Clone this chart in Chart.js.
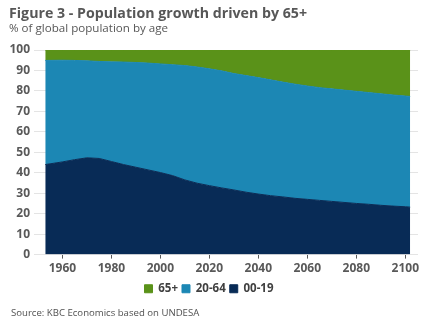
<!DOCTYPE html>
<html><head><meta charset="utf-8">
<script src="https://cdn.jsdelivr.net/npm/chart.js@4/dist/chart.umd.min.js"></script>
<style>
html,body{margin:0;padding:0;background:#fff;}
#wrap{position:relative;width:432px;height:332px;overflow:hidden;font-family:"Open Sans",sans-serif;}
#title{position:absolute;left:9px;top:3px;font-size:14.2px;font-weight:700;color:#575757;white-space:nowrap;}
#sub{position:absolute;left:9px;top:20px;font-size:11.6px;color:#575757;white-space:nowrap;}
#src{position:absolute;left:11px;top:306px;font-size:9.6px;color:#505050;white-space:nowrap;}
canvas{position:absolute;left:0;top:0;}
</style></head>
<body><div id="wrap">
<canvas id="c" width="432" height="332"></canvas>
<div id="title">Figure 3 - Population growth driven by 65+</div>
<div id="sub">% of global population by age</div>
<div id="src">Source: KBC Economics based on UNDESA</div>
</div>
<script>
const years = [1953,1960,1965,1970,1975,1980,1985,1990,1995,2000,2005,2010,2015,2020,2025,2030,2035,2040,2045,2050,2055,2060,2065,2070,2075,2080,2085,2090,2095,2100,2102];
const age00_19 = [44.0,45.3,46.4,47.3,47.0,45.5,44.0,42.7,41.4,40.1,38.6,36.5,34.9,33.7,32.6,31.6,30.5,29.6,28.8,28.2,27.5,27.0,26.5,26.0,25.5,25.0,24.6,24.1,23.7,23.4,23.2];
const age20_64 = [50.9,49.7,48.5,47.4,47.4,48.7,50.1,51.2,52.2,53.1,54.2,55.9,56.8,57.1,57.2,56.9,57.0,56.9,56.6,56.1,55.8,55.4,55.1,55.0,54.9,54.8,54.6,54.5,54.3,54.1,54.1];
const age65plus = [5.1,5.0,5.1,5.3,5.6,5.8,5.9,6.1,6.4,6.8,7.2,7.6,8.3,9.2,10.2,11.5,12.5,13.5,14.6,15.7,16.7,17.6,18.4,19.0,19.6,20.2,20.8,21.4,22.0,22.5,22.7];
const xTicks = [1960,1980,2000,2020,2040,2060,2080,2100];
const yTicks = [0,10,20,30,40,50,60,70,80,90,100];

const pts = arr => years.map((y,i)=>({x:y,y:arr[i]}));
const mk = (label, arr, color, fill) => ({
  label, data: pts(arr), backgroundColor: color, borderColor: color,
  borderWidth: 1, pointRadius: 0, fill, tension: 0
});
const tickFont = {family:'"Open Sans", sans-serif', size: 12, weight: 'bold'};

new Chart(document.getElementById('c'), {
  type: 'line',
  data: { datasets: [
    mk('00-19', age00_19, '#082b56', 'origin'),
    mk('20-64', age20_64, '#1c87b4', '-1'),
    mk('65+', age65plus, '#5a9219', '-1')
  ]},
  options: {
    responsive: false, animation: false,
    layout: { padding: { top: 50, bottom: 27.5, left: 0, right: 14 } },
    plugins: {
      tooltip: {enabled:false},
      legend: {
        position: 'bottom', reverse: true,
        labels: { boxWidth: 8, boxHeight: 8, padding: 4, color: '#404040',
          font: {family:'"Open Sans", sans-serif', size: 11.5, weight: 'bold'} }
      }
    },
    scales: {
      x: {
        type: 'linear', min: 1948.4, max: 2105.2,
        afterBuildTicks: s => { s.ticks = xTicks.map(v=>({value:v})); },
        ticks: { color: '#595959', font: tickFont, padding: 3, maxRotation: 0, autoSkip: false,
          callback: v => String(v) },
        grid: { drawOnChartArea: false, drawTicks: true, tickLength: 4, color: '#595959' },
        border: { display: false }
      },
      y: {
        stacked: true, min: 0, max: 100,
        afterBuildTicks: s => { s.ticks = yTicks.map(v=>({value:v})); },
        afterFit: s => { s.width = 34; },
        ticks: { color: '#595959', font: tickFont, padding: 4 },
        grid: { color: '#e4e4e4', drawTicks: false },
        border: { display: false }
      }
    }
  }
});
</script>
</body></html>
